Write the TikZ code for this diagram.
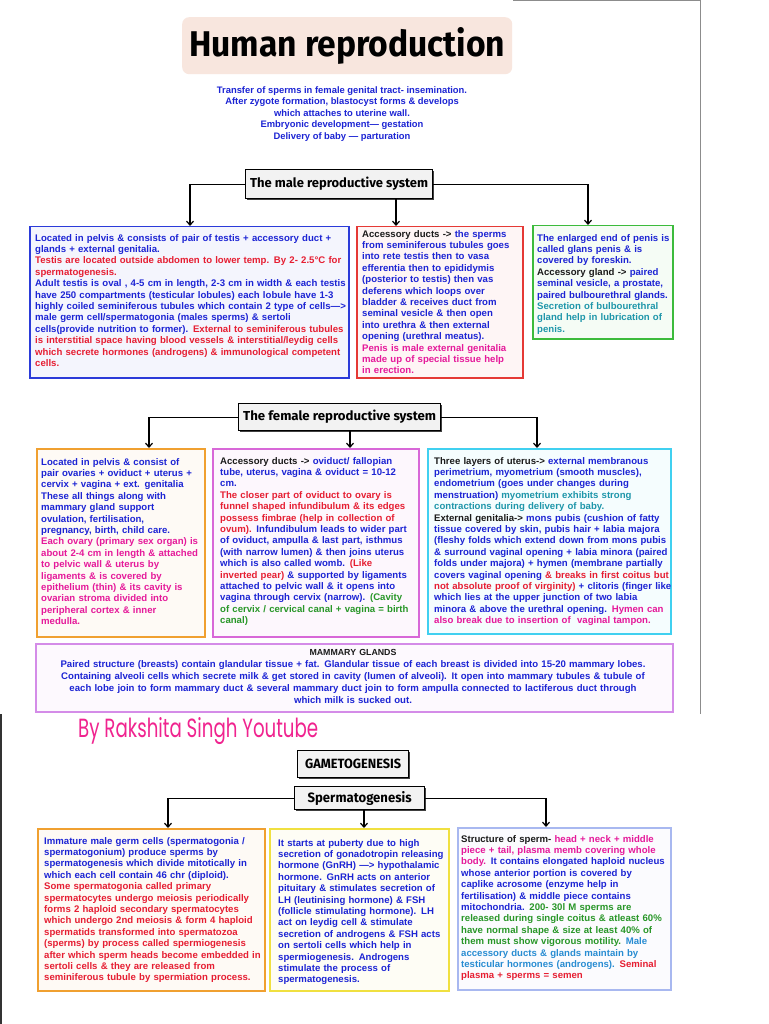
\documentclass[tikz,border=0pt]{standalone}
\usepackage{fontspec}
\setmainfont{Liberation Sans}
\newfontfamily\hdfont{Fira Sans}
\newfontfamily\sigfont{Poppins}
\usetikzlibrary{arrows.meta,shadows}
\definecolor{tblue}{HTML}{1C24D4}
\definecolor{tred}{HTML}{E61E32}
\definecolor{tmag}{HTML}{E5199A}
\definecolor{tblack}{HTML}{1A1A1A}
\definecolor{tteal}{HTML}{1E96AA}
\definecolor{tgreen}{HTML}{289628}
\definecolor{tlblue}{HTML}{288CD2}
\definecolor{bblue}{HTML}{2B3BD9}
\definecolor{bred}{HTML}{E53935}
\definecolor{bgreen}{HTML}{3CBB3C}
\definecolor{borange}{HTML}{F0A030}
\definecolor{bmag}{HTML}{D868D8}
\definecolor{bcyan}{HTML}{40D0F0}
\definecolor{bviolet}{HTML}{D48CE8}
\definecolor{byellow}{HTML}{F0E040}
\definecolor{bperi}{HTML}{A8B8F0}
\definecolor{sigpink}{HTML}{F0238F}
\definecolor{titlebg}{HTML}{F8E6DE}
\definecolor{hdrfill}{HTML}{F2F2F2}
\newcommand\colB{\color{tblue}}
\newcommand\colR{\color{tred}}
\newcommand\colM{\color{tmag}}
\newcommand\colK{\color{tblack}}
\newcommand\colT{\color{tteal}}
\newcommand\colG{\color{tgreen}}
\newcommand\colL{\color{tlblue}}
\tikzset{
  cbox/.style={rectangle, draw=#1, fill=#1!5, line width=1.5pt, inner sep=0pt, anchor=north west},
  txt/.style={anchor=north west, align=left, inner sep=0pt, font=\bfseries\fontsize{9.6}{11.4}\selectfont},
  hbox/.style={rectangle, draw=black, line width=1.3pt, fill=hdrfill, inner sep=0pt, anchor=north west,
     drop shadow={shadow xshift=1.4pt, shadow yshift=-1.4pt, fill=black!75, opacity=1}},
  conn/.style={line width=1.2pt, draw=black, -{Straight Barb[length=4pt,width=7pt]}},
}
\newcommand\bx[6]{\node[cbox=#2, minimum width={#5-#3}, minimum height={#6-#4}] (#1) at (#3,#4) {};}
\newcommand\hb[6]{\node[hbox, minimum width={#4-#2}, minimum height={#5-#3}] (#1) at (#2,#3) {#6};}
\begin{document}
\begin{tikzpicture}[x=1pt,y=-1pt]
\useasboundingbox (0,0) rectangle (768,1024);
\fill[white] (0,0) rectangle (768,1024);
\draw[black!45, line width=1pt] (513,0.5) -- (700,0.5) -- (700,714);
\draw[black!80, line width=1.5pt] (0.75,714) -- (0.75,1024);

% title
\node[fill=titlebg, rounded corners=7pt, minimum width=330pt, minimum height=57pt, inner sep=0pt, anchor=north west] (title) at (182,17)
  {\resizebox{316pt}{29pt}{\hdfont\bfseries Human reproduction}};
\node[anchor=north, align=center, inner sep=0pt, text=tblue, font=\bfseries\fontsize{9.4}{11.5}\selectfont] (intro) at (342,86)
  {Transfer of sperms in female genital tract- insemination.\\
   After zygote formation, blastocyst forms \& develops\\
   which attaches to uterine wall.\\
   Embryonic development— gestation\\
   Delivery of baby — parturation};

% male section
\hb{mh}{245}{169}{432}{198}{\resizebox{178pt}{10.5pt}{\hdfont\bfseries The male reproductive system}}
\bx{m1}{bblue}{29}{226}{348}{377}
\bx{m2}{bred}{356}{226}{522}{377}
\bx{m3}{bgreen}{532}{225}{672}{338}
\coordinate (dm1) at (190,0);
\coordinate (dm2) at (396,0);
\coordinate (dm3) at (588,0);
\draw[conn] (mh.west) -| (m1.north -| dm1);
\draw[conn] (mh.south -| dm2) -- (m2.north -| dm2);
\draw[conn] (mh.east) -| (m3.north -| dm3);

\node[txt, text width=316pt] (m1t) at (35,234) {\colB Located in pelvis \& consists of pair of testis + accessory duct +\\
glands + external genitalia.\\
\colR Testis are located outside abdomen to lower temp. By 2- 2.5°C for\\
spermatogenesis.\\
\colB Adult testis is oval , 4-5 cm in length, 2-3 cm in width \& each testis\\
have 250 compartments (testicular lobules) each lobule have 1-3\\
highly coiled seminiferous tubules which contain 2 type of cells—>\\
male germ cell/spermatogonia (males sperms) \& sertoli\\
cells(provide nutrition to former). \colR External to seminiferous tubules\\
is interstitial space having blood vessels \& interstitial/leydig cells\\
which secrete hormones (androgens) \& immunological competent\\
cells.};

\node[txt, text width=158pt] (m2t) at (362,230) {\colK Accessory ducts -> \colB the sperms\\
from seminiferous tubules goes\\
into rete testis then to vasa\\
efferentia then to epididymis\\
(posterior to testis) then vas\\
deferens which loops over\\
bladder \& receives duct from\\
seminal vesicle \& then open\\
into urethra \& then external\\
opening (urethral meatus).\\
\colM Penis is male external genitalia\\
made up of special tissue help\\
in erection.};

\node[txt, text width=137pt] (m3t) at (537,234) {\colB The enlarged end of penis is\\
called glans penis \& is\\
covered by foreskin.\\
\colK Accessory gland -> \colB paired\\
seminal vesicle, a prostate,\\
paired bulbourethral glands.\\
\colT Secretion of bulbourethral\\
gland help in lubrication of\\
penis.};

% female section
\hb{fh}{238}{403}{440}{430}{\resizebox{193pt}{10.5pt}{\hdfont\bfseries The female reproductive system}}
\bx{f1}{borange}{36}{448}{204}{636}
\bx{f2}{bmag}{212}{448}{418}{636}
\bx{f3}{bcyan}{427}{448}{670}{633}
\coordinate (df1) at (149,0);
\coordinate (df2) at (350,0);
\coordinate (df3) at (537,0);
\draw[conn] (fh.west) -| (f1.north -| df1);
\draw[conn] (fh.south -| df2) -- (f2.north -| df2);
\draw[conn] (fh.east) -| (f3.north -| df3);

\node[txt, text width=166pt] (f1t) at (41,458) {\colB Located in pelvis \& consist of\\
pair ovaries + oviduct + uterus +\\
cervix + vagina + ext. genitalia\\
These all things along with\\
mammary gland support\\
ovulation, fertilisation,\\
pregnancy, birth, child care.\\
\colM Each ovary (primary sex organ) is\\
about 2-4 cm in length \& attached\\
to pelvic wall \& uterus by\\
ligaments \& is covered by\\
epithelium (thin) \& its cavity is\\
ovarian stroma divided into\\
peripheral cortex \& inner\\
medulla.};

\node[txt, text width=202pt] (f2t) at (220,457) {\colK Accessory ducts -> \colB oviduct/ fallopian\\
tube, uterus, vagina \& oviduct = 10-12\\
cm.\\
\colR The closer part of oviduct to ovary is\\
funnel shaped infundibulum \& its edges\\
possess fimbrae (help in collection of\\
ovum). \colB Infundibulum leads to wider part\\
of oviduct, ampulla \& last part, isthmus\\
(with narrow lumen) \& then joins uterus\\
which is also called womb. \colR (Like\\
inverted pear) \colB \& supported by ligaments\\
attached to pelvic wall \& it opens into\\
vagina through cervix (narrow). \colG (Cavity\\
of cervix / cervical canal + vagina = birth\\
canal)};

\node[txt, text width=246pt] (f3t) at (434,457) {\colK Three layers of uterus-> \colB external membranous\\
perimetrium, myometrium (smooth muscles),\\
endometrium (goes under changes during\\
menstruation) \colT myometrium exhibits strong\\
contractions during delivery of baby.\\
\colK External genitalia-> \colB mons pubis (cushion of fatty\\
tissue covered by skin, pubis hair + labia majora\\
(fleshy folds which extend down from mons pubis\\
\& surround vaginal opening + labia minora (paired\\
folds under majora) + hymen (membrane partially\\
covers vaginal opening \colR \& breaks in first coitus but\\
not absolute proof of virginity) \colB + clitoris (finger like\\
which lies at the upper junction of two labia\\
minora \& above the urethral opening. \colM Hymen can\\
also break due to insertion of\ \ vaginal tampon.};

% mammary
\bx{mam}{bviolet}{35}{643}{672}{711}
\node[anchor=north, align=center, inner sep=0pt, text width=630pt, font=\bfseries\fontsize{9.6}{12}\selectfont] (mamt) at (353,649)
 {{\colK\fontsize{8.8}{12}\selectfont MAMMARY GLANDS}\\
 \colB Paired structure (breasts) contain glandular tissue + fat. Glandular tissue of each breast is divided into 15-20 mammary lobes.\\
 Containing alveoli cells which secrete milk \& get stored in cavity (lumen of alveoli). It open into mammary tubules \& tubule of\\
 each lobe join to form mammary duct \& several mammary duct join to form ampulla connected to lactiferous duct through\\
 which milk is sucked out.};

% signature
\node[anchor=base west, inner sep=0pt, text=sigpink] (sig) at (78,737) {\resizebox{240pt}{20pt}{\sigfont By Rakshita Singh Youtube}};

% gametogenesis
\hb{gh}{297}{750}{408}{777}{\resizebox{96pt}{9.5pt}{\hdfont\bfseries GAMETOGENESIS}}
\hb{sh}{294}{786}{424}{809}{\resizebox{104pt}{11pt}{\hdfont\bfseries Spermatogenesis}}
\bx{s1}{borange}{37}{828}{264}{990}
\bx{s2}{byellow}{269}{828}{448}{990}
\bx{s3}{bperi}{457}{827}{670}{989}
\coordinate (ds1) at (168,0);
\coordinate (ds2) at (364,0);
\coordinate (ds3) at (546,0);
\draw[conn] (sh.west) -| (s1.north -| ds1);
\draw[conn] (sh.south -| ds2) -- (s2.north -| ds2);
\draw[conn] (sh.east) -| (s3.north -| ds3);

\node[txt, text width=222pt] (s1t) at (44,837) {\colB Immature male germ cells (spermatogonia /\\
spermatogonium) produce sperms by\\
spermatogenesis which divide mitotically in\\
which each cell contain 46 chr (diploid).\\
\colR Some spermatogonia called primary\\
spermatocytes undergo meiosis periodically\\
forms 2 haploid secondary spermatocytes\\
which undergo 2nd meiosis \& form 4 haploid\\
spermatids transformed into spermatozoa\\
(sperms) by process called spermiogenesis\\
after which sperm heads become embedded in\\
sertoli cells \& they are released from\\
seminiferous tubule by spermiation process.};

\node[txt, text width=176pt] (s2t) at (278,839) {\colB It starts at puberty due to high\\
secretion of gonadotropin releasing\\
hormone (GnRH) —> hypothalamic\\
hormone. GnRH acts on anterior\\
pituitary \& stimulates secretion of\\
LH (leutinising hormone) \& FSH\\
(follicle stimulating hormone). LH\\
act on leydig cell \& stimulate\\
secretion of androgens \& FSH acts\\
on sertoli cells which help in\\
spermiogenesis. Androgens\\
stimulate the process of\\
spermatogenesis.};

\node[txt, text width=214pt] (s3t) at (461,835) {\colK Structure of sperm- \colM head + neck + middle\\
piece + tail, plasma memb covering whole\\
body. \colB It contains elongated haploid nucleus\\
whose anterior portion is covered by\\
caplike acrosome (enzyme help in\\
fertilisation) \& middle piece contains\\
mitochondria. \colG 200- 30l M sperms are\\
released during single coitus \& atleast 60\%\\
have normal shape \& size at least 40\% of\\
them must show vigorous motility. \colL Male\\
accessory ducts \& glands maintain by\\
testicular hormones (androgens). \colR Seminal\\
plasma + sperms = semen};
\end{tikzpicture}
\end{document}
